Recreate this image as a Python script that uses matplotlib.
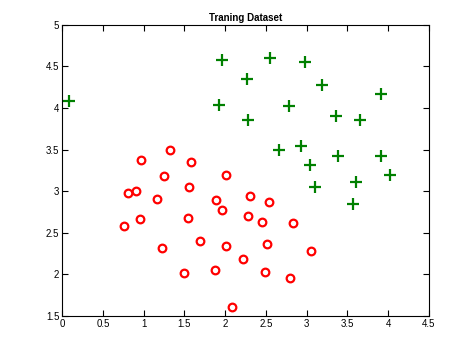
import numpy as np
import matplotlib
matplotlib.use('Agg')
import matplotlib.pyplot as plt

# class 1 (red circles)
x_red = [1.32, 0.97, 1.58, 1.25, 2.01, 0.81, 0.91, 1.56, 1.17, 1.89,
         2.31, 2.54, 1.96, 0.96, 1.55, 2.28, 2.45, 2.83, 0.76, 1.69,
         2.01, 2.51, 1.23, 3.05, 2.22, 1.49, 1.87, 2.49, 2.79, 2.09]
y_red = [3.50, 3.38, 3.35, 3.18, 3.19, 2.98, 3.00, 3.05, 2.91, 2.90,
         2.94, 2.87, 2.77, 2.67, 2.68, 2.70, 2.63, 2.62, 2.58, 2.40,
         2.34, 2.37, 2.32, 2.28, 2.19, 2.02, 2.05, 2.03, 1.96, 1.61]

# class 2 (green plus)
x_green = [0.09, 1.96, 2.55, 2.98, 2.27, 3.19, 3.91, 1.92, 2.78, 2.28,
           3.36, 3.66, 2.66, 2.93, 3.39, 3.91, 3.04, 4.02, 3.10, 3.60, 3.57]
y_green = [4.09, 4.58, 4.60, 4.55, 4.35, 4.28, 4.17, 4.04, 4.03, 3.85,
           3.90, 3.86, 3.49, 3.54, 3.42, 3.42, 3.31, 3.19, 3.05, 3.11, 2.85]

xticks = [0, 0.5, 1, 1.5, 2, 2.5, 3, 3.5, 4, 4.5]
yticks = [1.5, 2, 2.5, 3, 3.5, 4, 4.5, 5]

plt.rcParams['font.family'] = ['Liberation Sans', 'DejaVu Sans']

fig = plt.figure(figsize=(4.74, 3.55), dpi=100)
ax = fig.add_axes([0.131, 0.110, 0.774, 0.820])

ax.plot(x_red, y_red, 'o', markerfacecolor='none', markeredgecolor='red',
        markeredgewidth=1.6, markersize=5.5, linestyle='none')
ax.plot(x_green, y_green, '+', color=(0, 0.5, 0),
        markeredgewidth=1.6, markersize=9, linestyle='none')

ax.set_xlim(0, 4.5)
ax.set_ylim(1.5, 5)
ax.set_xticks(xticks)
ax.set_yticks(yticks)
ax.set_xticklabels([('%g' % t) for t in xticks])
ax.set_yticklabels([('%g' % t) for t in yticks])
ax.tick_params(direction='in', top=True, right=True, labelsize=7, length=4, pad=2)
ax.set_title('Traning Dataset', fontsize=7, fontweight='bold', pad=3)

plt.savefig('out.png', dpi=100)
